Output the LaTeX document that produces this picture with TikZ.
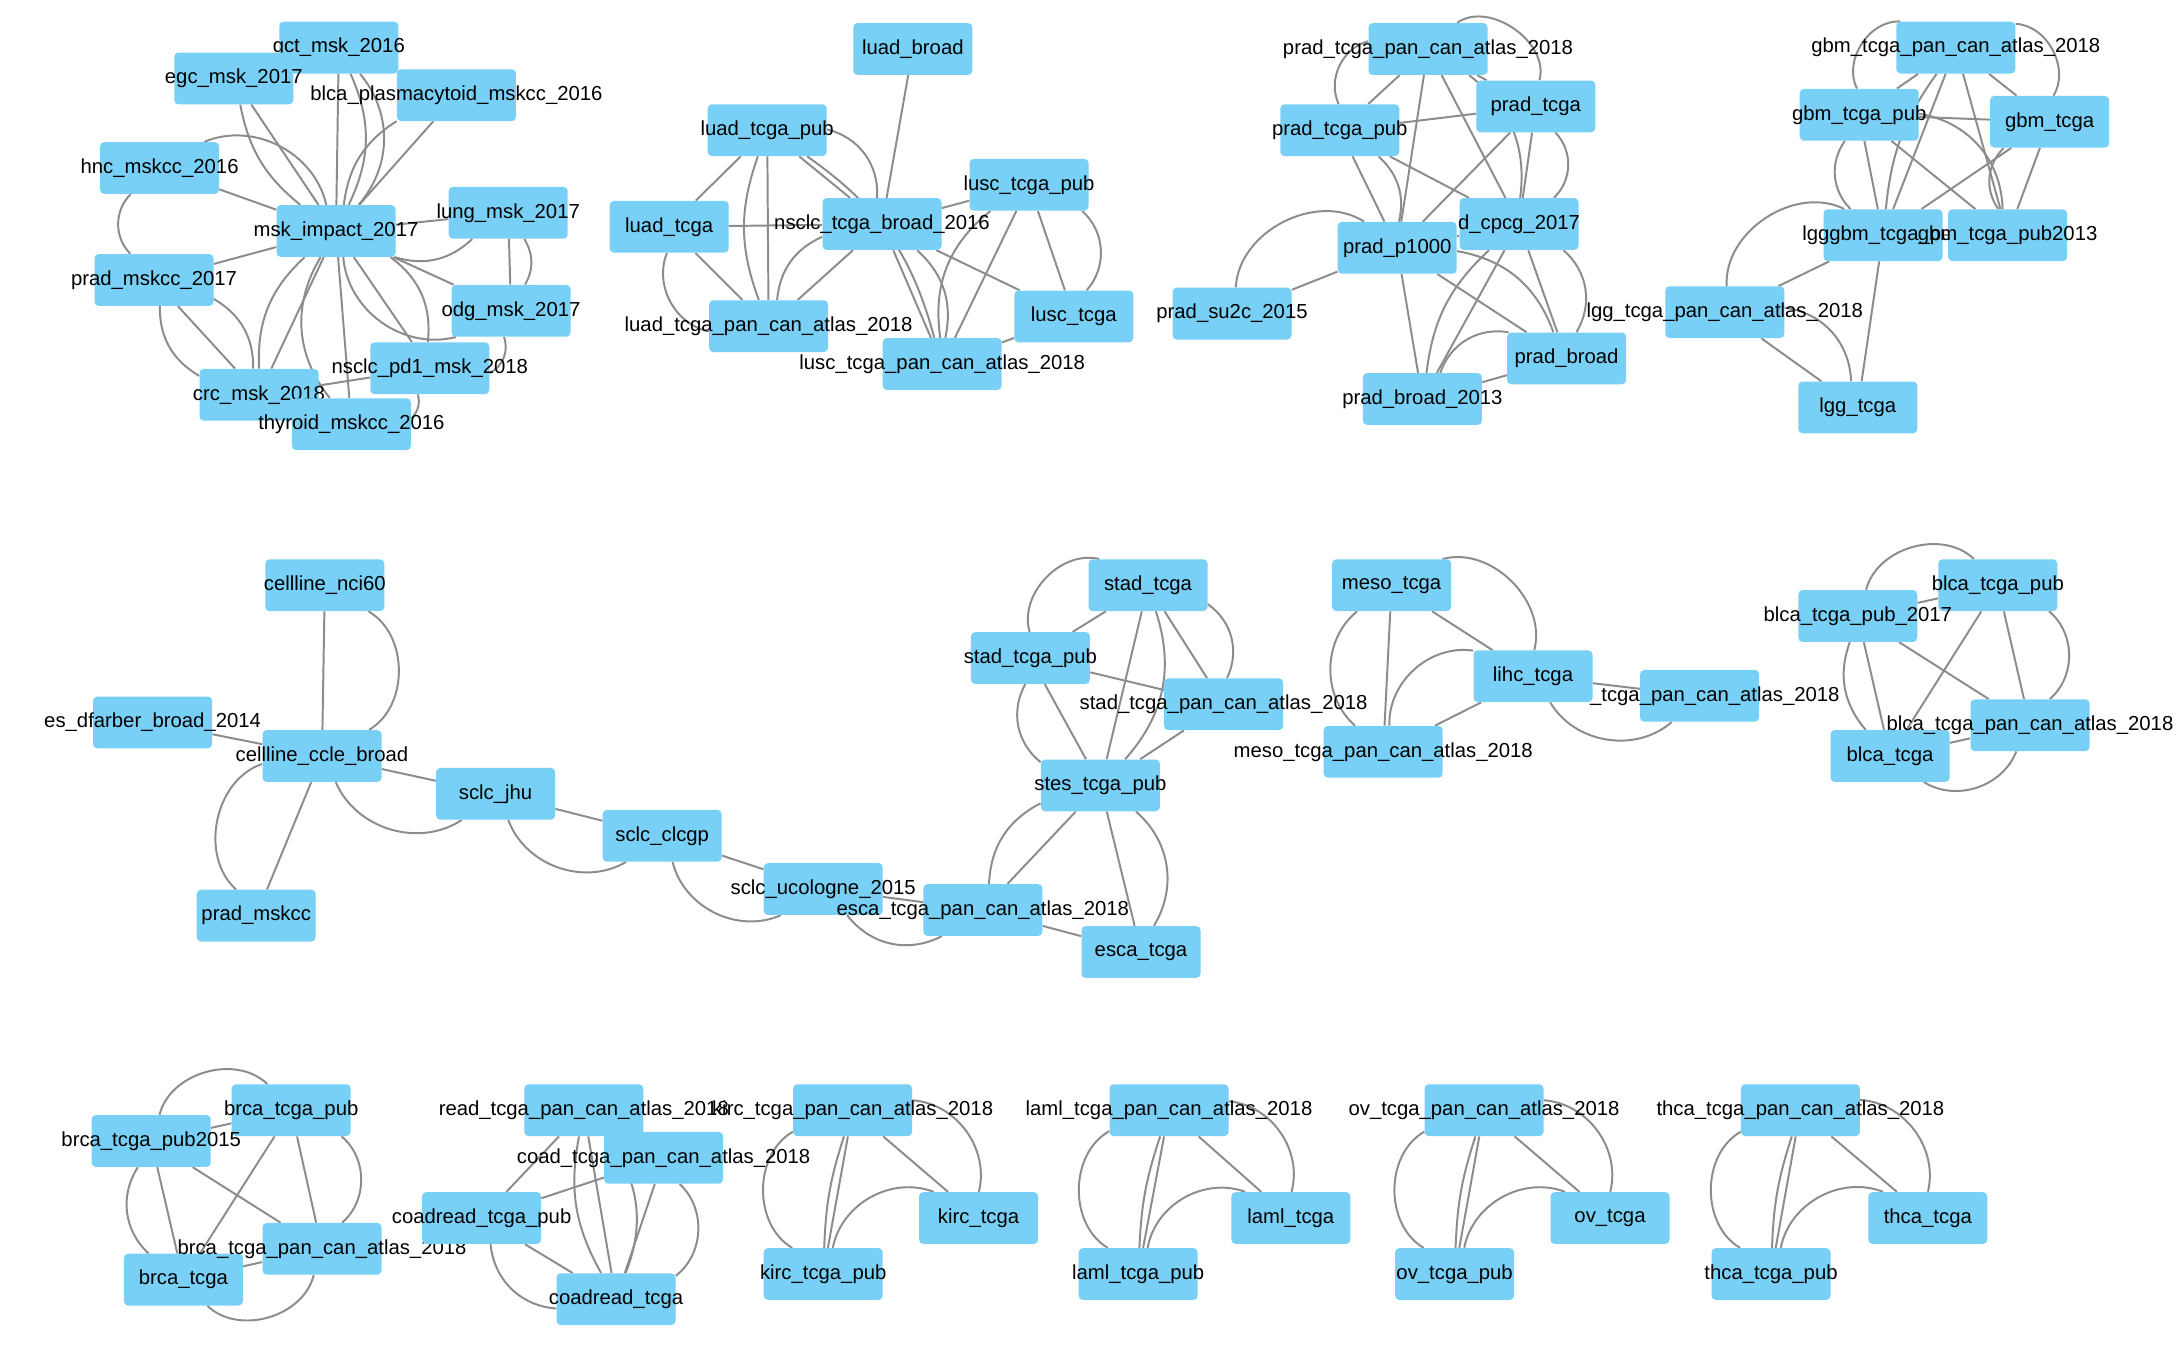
\documentclass[tikz,border=0pt]{standalone}
\usepackage{fontspec}
\setmainfont{Liberation Sans}
\usetikzlibrary{backgrounds}
\definecolor{nb}{HTML}{78D0F6}
\definecolor{eg}{HTML}{8C8C8C}
\newcommand\NN[3]{\node[n] (#1) at (#2) {}; \node[t] at (#1) {#3};}
\begin{document}
\begin{tikzpicture}[x=1pt,y=-1pt,
 n/.style={fill=nb,rounded corners=3pt,minimum width=85pt,minimum height=37pt,inner sep=0pt},
 t/.style={inner sep=0pt,font=\fontsize{14.5}{14.5}\selectfont},
 e/.style={draw=eg,line width=1.4pt}]
\useasboundingbox (0,0) rectangle (1560,961);
% cluster 1
\NN{gct}{242,34}{gct\_msk\_2016}
\NN{egc}{167,56}{egc\_msk\_2017}
\NN{blp}{326,68}{blca\_plasmacytoid\_mskcc\_2016}
\NN{hnc}{114,120}{hnc\_mskcc\_2016}
\NN{lung}{363,152}{lung\_msk\_2017}
\NN{prm}{110,200}{prad\_mskcc\_2017}
\NN{odg}{365,222}{odg\_msk\_2017}
\NN{crc}{185,282}{crc\_msk\_2018}
\NN{nsp}{307,263}{nsclc\_pd1\_msk\_2018}
\NN{thy}{251,303}{thyroid\_mskcc\_2016}
\NN{msk}{240,165}{msk\_impact\_2017}
% cluster 2
\NN{lbr}{652,35}{luad\_broad}
\NN{ltp}{548,93}{luad\_tcga\_pub}
\NN{lsp}{735,132}{lusc\_tcga\_pub}
\NN{lut}{478,162}{luad\_tcga}
\NN{lsc}{767,226}{lusc\_tcga}
\NN{lpa}{549,233}{luad\_tcga\_pan\_can\_atlas\_2018}
\NN{spa}{673,260}{lusc\_tcga\_pan\_can\_atlas\_2018}
\NN{nsc}{630,160}{nsclc\_tcga\_broad\_2016}
% cluster 3
\NN{ppa}{1020,35}{prad\_tcga\_pan\_can\_atlas\_2018}
\NN{pt}{1097,76}{prad\_tcga}
\NN{ptp}{957,93}{prad\_tcga\_pub}
\NN{pp1}{998,177}{prad\_p1000}
\NN{dcp}{1085,160}{d\_cpcg\_2017}
\NN{psu}{880,224}{prad\_su2c\_2015}
\NN{pbr}{1119,256}{prad\_broad}
\NN{pb13}{1016,285}{prad\_broad\_2013}
% cluster 4
\NN{gpa}{1397,34}{gbm\_tcga\_pan\_can\_atlas\_2018}
\NN{gtp}{1328,82}{gbm\_tcga\_pub}
\NN{gt}{1464,87}{gbm\_tcga}
\NN{lgp}{1232,223}{lgg\_tcga\_pan\_can\_atlas\_2018}
\NN{lgg}{1345,168}{lgggbm\_tcga\_pub}
\NN{g13}{1434,168}{gbm\_tcga\_pub2013}
\NN{lgt}{1327,291}{lgg\_tcga}
% cluster 5
\NN{nci}{232,418}{cellline\_nci60}
\NN{esd}{109,516}{es\_dfarber\_broad\_2014}
\NN{ccl}{230,540}{cellline\_ccle\_broad}
\NN{pmk}{183,654}{prad\_mskcc}
\NN{jhu}{354,567}{sclc\_jhu}
\NN{clc}{473,597}{sclc\_clcgp}
\NN{ucl}{588,635}{sclc\_ucologne\_2015}
\NN{epa}{702,650}{esca\_tcga\_pan\_can\_atlas\_2018}
\NN{est}{815,680}{esca\_tcga}
\NN{stt}{820,418}{stad\_tcga}
\NN{stp}{736,470}{stad\_tcga\_pub}
\NN{spn}{874,503}{stad\_tcga\_pan\_can\_atlas\_2018}
\NN{ste}{786,561}{stes\_tcga\_pub}
% cluster 6
\NN{mes}{994,418}{meso\_tcga}
\NN{mpa}{988,537}{meso\_tcga\_pan\_can\_atlas\_2018}
\NN{lpn}{1214,497}{lihc\_tcga\_pan\_can\_atlas\_2018}
\NN{lih}{1095,483}{lihc\_tcga}
% cluster 7
\NN{btp}{1427,418}{blca\_tcga\_pub}
\NN{b17}{1327,440}{blca\_tcga\_pub\_2017}
\NN{bt}{1350,540}{blca\_tcga}
\NN{bpa}{1450,518}{blca\_tcga\_pan\_can\_atlas\_2018}
% bottom
\NN{brp}{208,793}{brca\_tcga\_pub}
\NN{b15}{108,815}{brca\_tcga\_pub2015}
\NN{brt}{131,914}{brca\_tcga}
\NN{brpa}{230,892}{brca\_tcga\_pan\_can\_atlas\_2018}
\NN{rpa}{417,793}{read\_tcga\_pan\_can\_atlas\_2018}
\NN{cpub}{344,870}{coadread\_tcga\_pub}
\NN{crt}{440,928}{coadread\_tcga}
\NN{cpa}{474,827}{coad\_tcga\_pan\_can\_atlas\_2018}
\NN{kpa}{609,793}{kirc\_tcga\_pan\_can\_atlas\_2018}
\NN{kt}{699,870}{kirc\_tcga}
\NN{kp}{588,910}{kirc\_tcga\_pub}
\NN{mpa2}{835,793}{laml\_tcga\_pan\_can\_atlas\_2018}
\NN{mt}{922,870}{laml\_tcga}
\NN{mp}{813,910}{laml\_tcga\_pub}
\NN{opa}{1060,793}{ov\_tcga\_pan\_can\_atlas\_2018}
\NN{ot}{1150,870}{ov\_tcga}
\NN{op}{1039,910}{ov\_tcga\_pub}
\NN{tpa}{1286,793}{thca\_tcga\_pan\_can\_atlas\_2018}
\NN{tt}{1377,870}{thca\_tcga}
\NN{tp}{1265,910}{thca\_tcga\_pub}
\begin{scope}[on background layer]
\fill[white] (0,0) rectangle (1560,961);
% c1
\foreach \a in {gct,egc,blp,hnc,lung,prm,odg,nsp,crc,thy}{\draw[e] (msk)--(\a);}
\draw[e] (msk) to[bend right=25] (gct); \draw[e] (msk) to[bend left=25] (blp);
\draw[e] (msk) to[bend left=20] (egc); \draw[e] (hnc) to[bend left=50] (msk);
\draw[e] (prm) to[bend left=45] (hnc); \draw[e] (msk) to[bend right=50] (odg);
\draw[e] (msk) to[bend left=30] (nsp); \draw[e] (msk) to[bend right=25] (crc);
\draw[e] (prm)--(crc); \draw[e] (prm) to[bend left=30] (crc); \draw[e] (prm) to[bend right=30] (crc);
\draw[e] (lung)--(odg); \draw[e] (lung) to[bend left=30] (odg); \draw[e] (odg) to[bend left=40] (nsp);
\draw[e] (nsp)--(crc); \draw[e] (msk) to[bend right=35] (thy); \draw[e] (lung) to[bend left=30] (msk);
\draw[e] (gct) to[bend left=40] (msk); \draw[e] (thy) to[bend right=30] (nsp);
% c2
\foreach \a in {lbr,ltp,lsp,lut,lsc,lpa,spa}{\draw[e] (nsc)--(\a);}
\draw[e] (ltp) to[bend left=40] (nsc); \draw[e] (lut)--(ltp); \draw[e] (lut)--(lpa);
\draw[e] (ltp)--(lpa); \draw[e] (ltp) to[bend right=20] (lpa); \draw[e] (lut) to[bend right=50] (lpa);
\draw[e] (lsp)--(lsc); \draw[e] (lsp) to[bend left=45] (lsc); \draw[e] (lsc)--(spa);
\draw[e] (lsp)--(spa); \draw[e] (lsp) to[bend right=30] (spa); \draw[e] (nsc) to[bend left=30] (spa);
\draw[e] (nsc) to[bend right=30] (lpa); \draw[e] (ltp) to[bend left=20] (spa);
% c3
\foreach \a/\b in {ppa/pt,ppa/ptp,ppa/dcp,ppa/pp1,pt/ptp,pt/dcp,pt/pp1,ptp/dcp,ptp/pp1,pp1/dcp,pp1/pbr,pp1/pb13,dcp/pbr,dcp/pb13,pbr/pb13,pp1/psu}{\draw[e] (\a)--(\b);}
\draw[e] (ppa) to[bend left=30] (dcp); \draw[e] (ppa) to[bend right=50] (ptp);
\draw[e] (ppa) to[bend left=70] (pt); \draw[e] (pt) to[bend left=45] (dcp);
\draw[e] (psu) to[bend left=60] (pp1); \draw[e] (dcp) to[bend left=40] (pbr);
\draw[e] (pp1) to[bend left=30] (pbr); \draw[e] (dcp) to[bend right=20] (pb13);
\draw[e] (ptp) to[bend left=30] (pp1); \draw[e] (pbr) to[bend right=40] (pb13);
% c4
\foreach \a/\b in {gpa/gtp,gpa/gt,gpa/lgg,gpa/g13,gtp/gt,gtp/lgg,gtp/g13,gt/lgg,gt/g13,lgg/lgp,lgg/lgt,lgp/lgt,lgg/g13}{\draw[e] (\a)--(\b);}
\draw[e] (gtp) to[bend left=60] (gpa); \draw[e] (gpa) to[bend left=60] (gt);
\draw[e] (gtp) to[bend right=40] (lgg); \draw[e] (gt) to[bend right=40] (g13);
\draw[e] (lgp) to[bend left=60] (lgg); \draw[e] (lgp) to[bend left=40] (lgt);
\draw[e] (gpa) to[bend right=15] (lgg); \draw[e] (gtp) to[bend left=40] (g13);
% c5
\draw[e] (nci)--(ccl); \draw[e] (nci) to[bend left=60] (ccl); \draw[e] (esd)--(ccl);
\draw[e] (ccl)--(pmk); \draw[e] (ccl) to[bend right=60] (pmk);
\draw[e] (ccl)--(jhu); \draw[e] (ccl) to[bend right=50] (jhu);
\draw[e] (jhu)--(clc); \draw[e] (jhu) to[bend right=50] (clc);
\draw[e] (clc)--(ucl); \draw[e] (clc) to[bend right=50] (ucl);
\draw[e] (ucl)--(epa); \draw[e] (ucl) to[bend right=40] (epa);
\draw[e] (epa)--(ste); \draw[e] (epa)--(est); \draw[e] (ste)--(est); \draw[e] (ste) to[bend left=40] (est);
\draw[e] (epa) to[bend left=30] (ste);
\foreach \a/\b in {ste/stt,ste/stp,ste/spn,stt/stp,stt/spn,stp/spn}{\draw[e] (\a)--(\b);}
\draw[e] (stp) to[bend left=60] (stt); \draw[e] (stt) to[bend left=40] (spn);
\draw[e] (stp) to[bend right=40] (ste); \draw[e] (ste) to[bend right=30] (stt);
% c6
\draw[e] (mes)--(mpa); \draw[e] (mes)--(lih); \draw[e] (lih)--(mpa); \draw[e] (lih)--(lpn);
\draw[e] (lih) to[bend right=60] (mes); \draw[e] (mes) to[bend right=50] (mpa);
\draw[e] (mpa) to[bend left=50] (lih); \draw[e] (lih) to[bend right=50] (lpn);
% c7
\foreach \a/\b in {btp/b17,btp/bt,btp/bpa,b17/bt,b17/bpa,bt/bpa}{\draw[e] (\a)--(\b);}
\draw[e] (b17) to[bend left=60] (btp); \draw[e] (btp) to[bend left=50] (bpa);
\draw[e] (bt) to[bend right=50] (bpa); \draw[e] (b17) to[bend right=30] (bt);
% bottom
\foreach \a/\b in {brp/b15,brp/brt,brp/brpa,b15/brt,b15/brpa,brt/brpa}{\draw[e] (\a)--(\b);}
\draw[e] (b15) to[bend left=60] (brp); \draw[e] (brp) to[bend left=50] (brpa);
\draw[e] (brt) to[bend right=60] (brpa); \draw[e] (b15) to[bend right=40] (brt);
\foreach \a/\b in {rpa/cpub,rpa/crt,rpa/cpa,cpub/crt,cpub/cpa,cpa/crt}{\draw[e] (\a)--(\b);}
\draw[e] (rpa) to[bend left=30] (crt); \draw[e] (cpa) to[bend left=50] (crt);
\draw[e] (cpub) to[bend right=40] (crt); \draw[e] (rpa) to[bend right=20] (crt);
\foreach \p/\t/\q in {kpa/kt/kp,mpa2/mt/mp,opa/ot/op,tpa/tt/tp}{
 \draw[e] (\p)--(\t); \draw[e] (\p)--(\q); \draw[e] (\p) to[bend right=8] (\q);
 \draw[e] (\q) to[bend left=50] (\t); \draw[e] (\p) to[bend left=50] (\t); \draw[e] (\q) to[bend left=60] (\p);}
\end{scope}
\end{tikzpicture}
\end{document}
